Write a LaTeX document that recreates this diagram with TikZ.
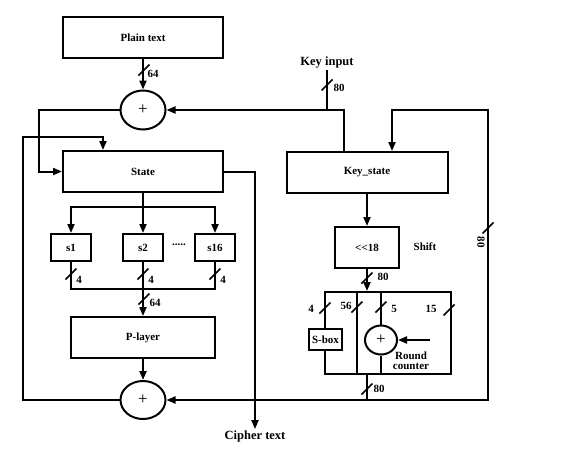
\documentclass[tikz,border=0pt]{standalone}
\usepackage{fontspec}
\setmainfont{Liberation Serif}
\usetikzlibrary{shapes.geometric,arrows.meta,calc}
\begin{document}
\begin{tikzpicture}[x=1pt,y=-1pt,
  every node/.style={font=\bfseries\fontsize{11}{12}\selectfont},
  box/.style={draw,line width=2pt,inner sep=0pt},
  xorn/.style={draw,ellipse,line width=2pt,inner sep=0pt,font=\fontsize{17}{17}\selectfont},
  wire/.style={line width=2pt},
  conn/.style={line width=2pt,-{Triangle[length=9pt,width=7pt]}},
  lbl/.style={inner sep=0pt},
  big/.style={font=\bfseries\fontsize{12.5}{13}\selectfont,inner sep=1pt},
  bus/.pic={\draw[line width=1.6pt] (-5.5,5.5) -- (5.5,-5.5);}
]
\useasboundingbox (0,0) rectangle (572,461);

% nodes
\node[box,minimum width=160pt,minimum height=41pt] (plain) at (143,37.5) {Plain text};
\node[xorn,minimum width=45pt,minimum height=39pt] (xor1) at (143,110) {+};
\node[box,minimum width=160pt,minimum height=41pt] (state) at (143,171.5) {State};
\node[box,minimum width=40pt,minimum height=27pt] (s1) at (71,247.5) {s1};
\node[box,minimum width=40pt,minimum height=27pt] (s2) at (143,247.5) {s2};
\node[box,minimum width=40pt,minimum height=27pt] (s16) at (215,247.5) {s16};
\node[lbl] (dots) at (179,245) {.....};
\node[box,minimum width=144pt,minimum height=41pt] (player) at (143,337.5) {P-layer};
\node[xorn,minimum width=45pt,minimum height=38pt] (xor2) at (143,400) {+};
\node[big] (cipher) at (255,436) {Cipher text};

\node[big] (keyin) at (327,63) {Key input};
\node[box,minimum width=161pt,minimum height=41pt] (keystate) at (367,172.5) {Key\_state};
\node[box,minimum width=64pt,minimum height=41pt] (shiftbox) at (367,247.5) {{<}{<}18};
\node[lbl] (shiftl) at (425,247) {Shift};
\node[box,minimum width=126pt,minimum height=82pt] (bigbox) at (388,333) {};
\node[box,fill=white,minimum width=33pt,minimum height=21pt] (sbox) at (325.5,339.5) {S-box};
\node[xorn,minimum width=32pt,minimum height=29pt] (xor3) at (381,340) {+};
\node[lbl,align=center] (rcl) at (411,360.5) {Round\\[-1.5pt]counter};

% coordinates
\coordinate (c1) at (39,110);
\coordinate (lpT) at (23,137);
\coordinate (fan) at (143,207);
\coordinate (col) at (143,289);
\coordinate (kx) at (344,110);
\coordinate (kx2) at (392,110);
\coordinate (fbT) at (488,110);
\coordinate (fbB) at (488,400);
\coordinate (bj) at (367,400);
\coordinate (i56t) at (357,292);
\coordinate (i56b) at (357,374);
\coordinate (i5t) at (381,292);
\coordinate (i5b) at (381,374);
\coordinate (rc) at (430,340);

% left datapath
\draw[conn] (plain.south) -- (xor1.north);
\draw[conn] (xor1.west) -- (c1) |- (state.west);
\draw[conn] (xor2.west) -| (lpT) -| ([xshift=-40pt]state.north);
\draw[conn] (state.east) -| (cipher.north);
\draw[wire] (state.south) -- (fan);
\draw[conn] (fan) -| (s1.north);
\draw[conn] (fan) -| (s16.north);
\draw[conn] (fan) -- (s2.north);
\draw[wire] (s1.south) |- (col);
\draw[wire] (s16.south) |- (col);
\draw[wire] (s2.south) -- (col);
\draw[conn] (col) -- (player.north);
\draw[conn] (player.south) -- (xor2.north);

% key path
\draw[wire] (keyin.south) -- (keyin.south |- kx);
\draw[conn] (keystate.north -| kx) |- (xor1.east);
\draw[conn] (keystate.south) -- (shiftbox.north);
\draw[conn] (shiftbox.south) -- (shiftbox.south |- bigbox.north);
\draw[wire] (i56t) -- (i56b);
\draw[wire] (i5t) -- (xor3.north);
\draw[wire] (xor3.south) -- (i5b);
\draw[conn] (rc) -- (xor3.east);
\draw[wire] (bigbox.south -| bj) -- (bj);
\draw[conn] (bj) -- (xor2.east);
\draw[conn] (bj) -- (fbB) -- (fbT) -| (keystate.north -| kx2);

% bus marks and widths
\pic at (144,70) {bus};   \node[lbl] (w1) at (153,74) {64};
\pic at (327,85) {bus};   \node[lbl] (w2) at (339,88) {80};
\pic at (71,274) {bus};   \node[lbl] (w3) at (79,280) {4};
\pic at (143,274) {bus};  \node[lbl] (w4) at (151,280) {4};
\pic at (215,274) {bus};  \node[lbl] (w5) at (223,280) {4};
\pic at (144,299) {bus};  \node[lbl] (w6) at (155,303) {64};
\pic at (367,278) {bus};  \node[lbl] (w7) at (383,277) {80};
\pic at (325,308) {bus};  \node[lbl] (w8) at (311,309) {4};
\pic at (357,307) {bus};  \node[lbl] (w9) at (346,306) {56};
\pic at (381,307) {bus};  \node[lbl] (w10) at (394,309) {5};
\pic at (449,310) {bus};  \node[lbl] (w11) at (431,309) {15};
\pic at (367,389) {bus};  \node[lbl] (w12) at (379,389) {80};
\pic at (488,228) {bus};  \node[lbl,rotate=-90] (w13) at (481,242) {80};
\end{tikzpicture}
\end{document}
